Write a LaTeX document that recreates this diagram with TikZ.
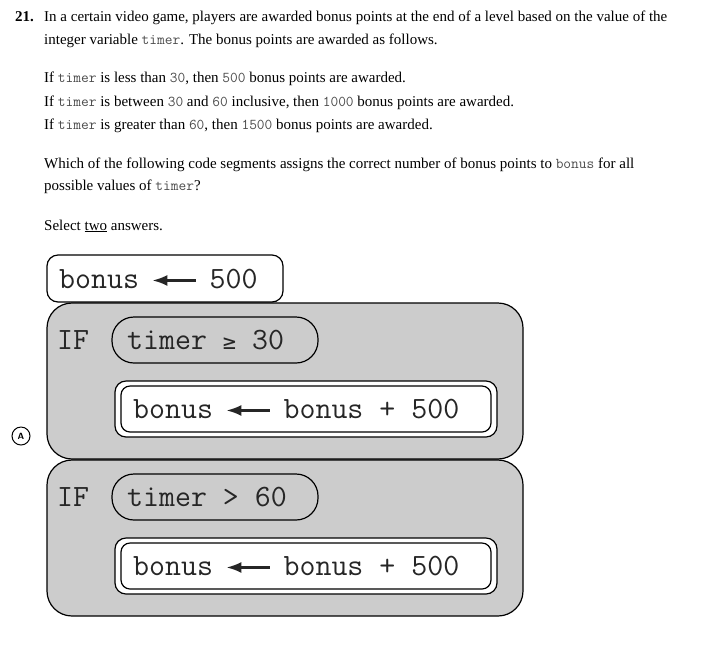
\documentclass[tikz,border=0pt]{standalone}
\usepackage{fontspec}
\setmainfont{Liberation Serif}
\newfontfamily\cm{Latin Modern Mono}
\newfontfamily\dvm{DejaVu Sans Mono}
\usetikzlibrary{arrows.meta}
\newcommand{\tm}[1]{{\cm\fontsize{15}{16}\selectfont\color{black!70}#1}}
\newcommand{\larr}{\hspace{12pt}\tikz[baseline=-0.6ex]\draw[{Latex[length=15pt,width=11pt]}-,line width=2.6pt](0,0)--(44pt,0);\hspace{12pt}}
\begin{document}
\begin{tikzpicture}[x=1pt,y=-1pt,
  body/.style={anchor=base west,inner sep=0,font=\fontsize{15}{17}\selectfont},
  code/.style={anchor=west,inner sep=0,font=\cm\fontsize{31}{34}\selectfont,text=black!85},
  gbox/.style={draw,line width=1.2pt,fill=black!20,rounded corners=25pt},
  wbox/.style={draw,line width=1.2pt,fill=white,rounded corners=11pt},
  pill/.style={draw,line width=1.2pt,rounded corners=22pt}]
\useasboundingbox (0,0) rectangle (727,657);
\node[body] (n) at (15,21) {\textbf{21.}};
\node[body] (t1) at (44,21) {In a certain video game, players are awarded bonus points at the end of a level based on the value of the};
\node[body] (t2) at (44,44) {integer variable \tm{timer}. The bonus points are awarded as follows.};
\node[body] (t3) at (44,82) {If \tm{timer} is less than \tm{30}, then \tm{500} bonus points are awarded.};
\node[body] (t4) at (44,106) {If \tm{timer} is between \tm{30} and \tm{60} inclusive, then \tm{1000} bonus points are awarded.};
\node[body] (t5) at (44,129) {If \tm{timer} is greater than \tm{60}, then \tm{1500} bonus points are awarded.};
\node[body] (t6) at (44,168) {Which of the following code segments assigns the correct number of bonus points to \tm{bonus} for all};
\node[body] (t7) at (44,190) {possible values of \tm{timer}?};
\node[body] (t8) at (44,230) {Select \underline{two} answers.};
% code
\draw[wbox] (47,255) rectangle (283,302);
\node[code] (c1) at (59,279) {bonus\larr 500};
\foreach \y/\op/\v in {303/{{\dvm\fontsize{22}{24}\selectfont ≥}}/30,460/>/60}{
  \draw[gbox] (47,\y) rectangle (523,\y+156);
  \node[code] at (57,\y+37) {IF};
  \draw[pill] (112,\y+14) rectangle (318,\y+60);
  \node[code] at (127,\y+37) {timer \op\ \v};
  \draw[wbox] (115,\y+78) rectangle (497,\y+134);
  \draw[line width=1.2pt,rounded corners=9pt] (121,\y+83) rectangle (491,\y+129);
  \node[code] at (133,\y+106) {bonus\larr bonus + 500};
}
\node[draw,circle,line width=1pt,inner sep=0,minimum size=18pt,font=\sffamily\bfseries\fontsize{9}{10}\selectfont] (A) at (21,436) {A};
\end{tikzpicture}
\end{document}
